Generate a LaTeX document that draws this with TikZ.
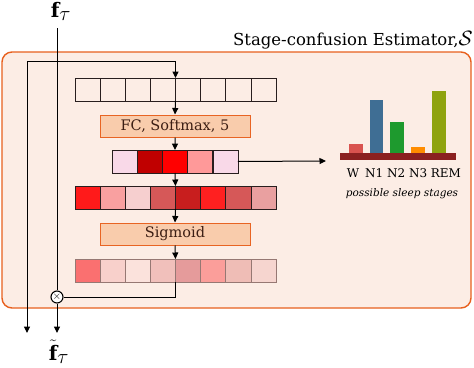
\documentclass[tikz,border=0pt]{standalone}
\usepackage{xcolor}
\usepackage{amsmath,amssymb}
\usepackage{fontspec}
\setmainfont{DejaVu Serif}
\usepackage{tikz}
\usetikzlibrary{arrows.meta}

\begin{document}
\begin{tikzpicture}[x=1pt,y=-1pt,
  wire/.style={draw=black,line width=1pt},
  arr/.style={wire,-{Triangle[length=6.5pt,width=6pt]}},
  cell/.style={draw={rgb,255:red,40;green,30;blue,30},line width=0.7pt,minimum width=25.1pt,minimum height=23pt,inner sep=0pt,outer sep=0pt},
  layerbox/.style={fill={rgb,255:red,249;green,204;blue,172},draw={rgb,255:red,232;green,100;blue,35},line width=1pt,minimum width=150pt,minimum height=22pt,inner sep=0pt,text={rgb,255:red,60;green,30;blue,20},font=\fontsize{14.5}{16}\selectfont},
  feat/.style={anchor=base,inner sep=0pt,font=\fontsize{20}{24}\selectfont}]
\path[use as bounding box] (0,0) rectangle (474,367);
\path[fill=white] (0,0) rectangle (474,367);
% estimator frame
\path[fill={rgb,255:red,252;green,237;blue,229},draw={rgb,255:red,232;green,96;blue,30},line width=1.4pt,rounded corners=10pt] (2,52) rectangle (471,308);
\node[anchor=base east,inner sep=0pt,font=\fontsize{16.5}{19}\selectfont] (title) at (473,45) {Stage-confusion Estimator,{\fontsize{21}{24}\selectfont$\mathcal{S}$}};
% input and output
\node[feat] (fin) at (61,17) {$\mathbf{f}_{\textstyle\tau}$};
\node[feat] (fout) at (59,360) {$\tilde{\mathbf{f}}_{\textstyle\tau}$};
\node[draw,circle,line width=1.1pt,fill=white,inner sep=0pt,minimum size=12pt,font=\fontsize{11}{11}\selectfont] (mul) at (57,297) {$\times$};
\coordinate (top) at (57,28);
\coordinate (skip) at (27,61);
\coordinate (skipend) at (27,333);
\coordinate (outend) at (57,333);
% feature row
\foreach \i in {1,...,8}
  \node[cell] (a\i) at (75+25.125*\i-12.56,89.5) {};
% softmax head
\node[layerbox] (fc) at (175,126) {FC, Softmax, 5};
\foreach \r/\g/\b [count=\i] in {249/217/232,192/0/0,255/0/0,255/153/153,249/217/232}
  \node[cell,fill={rgb,255:red,\r;green,\g;blue,\b}] (b\i) at (112+25.2*\i-12.6,161.5) {};
% confusion weights
\foreach \r/\g/\b [count=\i] in {255/26/26,249/160/160,246/207/207,214/88/88,200/30/30,255/32/32,214/88/88,233/160/160}
  \node[cell,fill={rgb,255:red,\r;green,\g;blue,\b}] (c\i) at (75+25.125*\i-12.56,197.5) {};
\node[layerbox] (sig) at (175,234) {Sigmoid};
\foreach \r/\g/\b [count=\i] in {250/112/112,248/208/203,251/226/220,241/192/187,229/155/155,251/158/154,239/189/182,246/213/207}
  \node[cell,draw={rgb,255:red,150;green,120;blue,115},fill={rgb,255:red,\r;green,\g;blue,\b}] (d\i) at (75+25.125*\i-12.56,270.5) {};
% connectors
\draw[wire] (top) -- (mul.north);
\draw[arr] (mul.south) -- (outend);
\draw[arr] (skip) -- (skipend);
\draw[arr] (skip) -| (a4.north east);
\draw[arr] (a4.south east) -- (fc.north);
\draw[arr] (fc.south) -- (b3.north);
\draw[arr] (b3.south) -- (c4.north east);
\draw[arr] (c4.south east) -- (sig.north);
\draw[arr] (sig.south) -- (d4.north east);
\draw[wire] (d4.south east) |- (mul.east);
\coordinate (hist) at (326,161);
\draw[arr] (b5.east) -- (hist);
% sleep stage histogram
\path[fill={rgb,255:red,217;green,83;blue,79}] (349,144) rectangle (363,154);
\path[fill={rgb,255:red,63;green,110;blue,148}] (370,100) rectangle (383,154);
\path[fill={rgb,255:red,30;green,154;blue,46}] (390,122) rectangle (404,154);
\path[fill={rgb,255:red,255;green,140;blue,0}] (411,147) rectangle (425,154);
\path[fill={rgb,255:red,143;green,163;blue,15}] (432,91) rectangle (446,154);
\path[fill={rgb,255:red,139;green,32;blue,32}] (340,153) rectangle (456,160);
\node[anchor=base,inner sep=0pt,font=\fontsize{12}{14}\selectfont] (stages) at (404,177) {W\ \,N1 N2 N3 REM};
\node[anchor=base,inner sep=0pt,font=\itshape\fontsize{10.5}{12}\selectfont] (caption) at (402,196) {possible sleep stages};
\end{tikzpicture}
\end{document}
